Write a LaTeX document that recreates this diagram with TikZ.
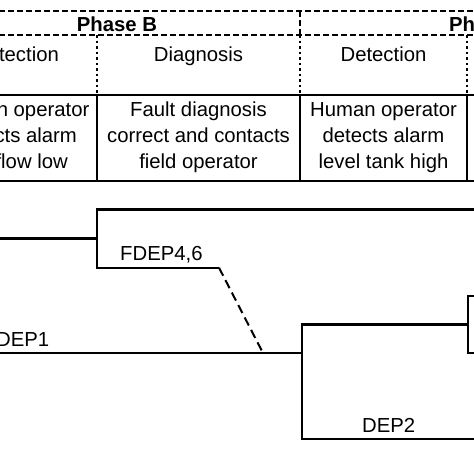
\documentclass[tikz,border=0pt]{standalone}
\usepackage{fontspec}
\setmainfont{Liberation Sans}
\begin{document}
\begin{tikzpicture}[x=1pt,y=-1pt, line width=2.4pt,
  txt/.style={font=\fontsize{20.3}{26}\selectfont, inner sep=0pt, anchor=base},
  btxt/.style={font=\fontsize{20.3}{26}\selectfont\bfseries, inner sep=0pt, anchor=base},
  lbl/.style={font=\fontsize{20.3}{26}\selectfont, inner sep=0pt, anchor=base west},
  dsh/.style={dash pattern=on 6pt off 3pt},
  dotl/.style={dash pattern=on 2.5pt off 3pt},
  ddash/.style={dash pattern=on 9pt off 5pt, line width=2pt}]
\useasboundingbox (0,0) rectangle (474,474);
\clip (0,0) rectangle (474,474);
% table frame
\coordinate (t0l) at (-10,11);  \coordinate (t0r) at (484,11);
\coordinate (t1l) at (-10,35);  \coordinate (t1r) at (484,35);
\coordinate (t2l) at (-10,95);  \coordinate (t2r) at (484,95);
\coordinate (t3l) at (-10,181); \coordinate (t3r) at (484,181);
\coordinate (pb) at (300,11);
\coordinate (c1a) at (97,35);  \coordinate (c1b) at (97,95);  \coordinate (c1c) at (97,181);
\coordinate (c2a) at (300,35); \coordinate (c2b) at (300,95); \coordinate (c2c) at (300,181);
\coordinate (c3a) at (467,35); \coordinate (c3b) at (467,95); \coordinate (c3c) at (467,181);
\draw[dsh] (t0l) -- (t0r);
\draw[dsh] (t1l) -- (t1r);
\draw[dsh] (pb) -- (c2a);
\draw[dotl] (c1a) -- (c1b);
\draw[dotl] (c2a) -- (c2b);
\draw[dotl] (c3a) -- (c3b);
\draw (t2l) -- (t2r);
\draw (t3l) -- (t3r);
\draw (c1b) -- (c1c);
\draw (c2b) -- (c2c);
\draw (c3b) -- (c3c);
% phase titles
\node[btxt] (phB) at (117,31.5) {Phase B};
\node[btxt, anchor=base west] (phC) at (448,31.5) {Phase C};
% column headers
\node[txt] (h1) at (16,61) {Detection};
\node[txt] (h2) at (198.5,61) {Diagnosis};
\node[txt] (h3) at (383.5,61) {Detection};
% cell texts
\node[txt] (a1) at (16,116) {Human operator};
\node[txt] (a2) at (16,142) {detects alarm};
\node[txt, anchor=base east] (a3) at (69,168) {in flow low};
\node[txt] (b1) at (198.5,116) {Fault diagnosis};
\node[txt] (b2) at (198.5,142) {correct and contacts};
\node[txt] (b3) at (198.5,168) {field operator};
\node[txt] (d1t) at (383.5,116) {Human operator};
\node[txt] (d2t) at (383.5,142) {detects alarm};
\node[txt] (d3t) at (383.5,168) {level tank high};
% lower diagram
\coordinate (a0) at (-10,238.5); \coordinate (a1c) at (97,238.5);
\coordinate (f1) at (97,209.5);  \coordinate (f2) at (484,209.5);
\coordinate (f3) at (97,267.7);  \coordinate (f4) at (219,267.7);
\coordinate (d0) at (-10,353);   \coordinate (d1) at (263,353); \coordinate (d2) at (302,353);
\coordinate (e1) at (302,324.3); \coordinate (e2) at (468,324.3);
\coordinate (e3) at (302,439);   \coordinate (e4) at (474,439);
\coordinate (g1) at (468,296);   \coordinate (g2) at (468,353);
\coordinate (g3) at (484,296);   \coordinate (g4) at (484,353);
\draw (a0) -- (a1c);
\draw (f2) -- (f1) -- (f3) -- (f4);
\draw[ddash] (f4) -- (d1);
\draw (d0) -- (d2);
\draw (e2) -- (e1) -- (e3) -- (e4);
\draw (g3) -- (g1) -- (g2) -- (g4);
\node[lbl] (fdep) at (119,260.7) {FDEP4,6};
\node[lbl] (dep1) at (-5,346) {DEP1};
\node[lbl] (dep2) at (361,432.3) {DEP2};
\end{tikzpicture}
\end{document}
